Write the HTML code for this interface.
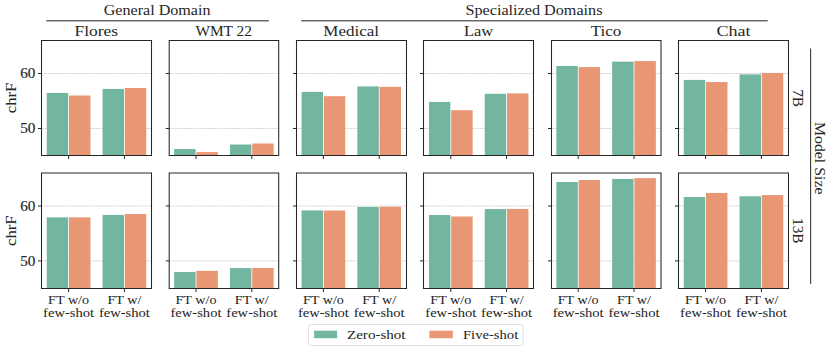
<!DOCTYPE html>
<html><head><meta charset="utf-8"><style>
html,body{margin:0;padding:0;background:#fff;width:830px;height:351px;overflow:hidden}
svg{display:block}
text{font-family:"Liberation Serif",serif;fill:#262626;stroke:#262626;stroke-width:0.04px}
</style></head><body>
<svg width="830" height="351" viewBox="0 0 830 351">
<line x1="41.5" y1="73.5" x2="151.5" y2="73.5" stroke="#d2d2d2" stroke-width="1" stroke-dasharray="2,1"/>
<line x1="41.5" y1="128.5" x2="151.5" y2="128.5" stroke="#d2d2d2" stroke-width="1" stroke-dasharray="2,1"/>
<rect x="46.75" y="92.9" width="21.45" height="62.60" fill="#72b6a1"/>
<rect x="69.00" y="95.5" width="21.45" height="60.00" fill="#e99675"/>
<rect x="102.55" y="88.9" width="21.45" height="66.60" fill="#72b6a1"/>
<rect x="124.80" y="88.0" width="21.45" height="67.50" fill="#e99675"/>
<path d="M41.5 40.5H151.5V155.5H41.5Z" fill="none" stroke="#262626" stroke-width="1.05"/>
<line x1="68.60" y1="155.5" x2="68.60" y2="159.0" stroke="#262626" stroke-width="1"/>
<line x1="124.40" y1="155.5" x2="124.40" y2="159.0" stroke="#262626" stroke-width="1"/>
<line x1="38.0" y1="73.5" x2="41.5" y2="73.5" stroke="#262626" stroke-width="1"/>
<line x1="38.0" y1="128.5" x2="41.5" y2="128.5" stroke="#262626" stroke-width="1"/>
<text x="96.25" y="35.9" font-size="14" text-anchor="middle" textLength="43.5" lengthAdjust="spacingAndGlyphs" style="stroke-width:0">Flores</text>
<line x1="169.2" y1="73.5" x2="278.7" y2="73.5" stroke="#d2d2d2" stroke-width="1" stroke-dasharray="2,1"/>
<line x1="169.2" y1="128.5" x2="278.7" y2="128.5" stroke="#d2d2d2" stroke-width="1" stroke-dasharray="2,1"/>
<rect x="174.15" y="149" width="21.45" height="6.50" fill="#72b6a1"/>
<rect x="196.40" y="152.1" width="21.45" height="3.40" fill="#e99675"/>
<rect x="229.95" y="144.5" width="21.45" height="11.00" fill="#72b6a1"/>
<rect x="252.20" y="143.5" width="21.45" height="12.00" fill="#e99675"/>
<path d="M169.2 40.5H278.7V155.5H169.2Z" fill="none" stroke="#262626" stroke-width="1.05"/>
<line x1="196.00" y1="155.5" x2="196.00" y2="159.0" stroke="#262626" stroke-width="1"/>
<line x1="251.80" y1="155.5" x2="251.80" y2="159.0" stroke="#262626" stroke-width="1"/>
<line x1="165.7" y1="73.5" x2="169.2" y2="73.5" stroke="#262626" stroke-width="1"/>
<line x1="165.7" y1="128.5" x2="169.2" y2="128.5" stroke="#262626" stroke-width="1"/>
<text x="223.70" y="35.9" font-size="14" text-anchor="middle" textLength="56.6" lengthAdjust="spacingAndGlyphs" style="stroke-width:0">WMT 22</text>
<line x1="296.5" y1="73.5" x2="406.5" y2="73.5" stroke="#d2d2d2" stroke-width="1" stroke-dasharray="2,1"/>
<line x1="296.5" y1="128.5" x2="406.5" y2="128.5" stroke="#d2d2d2" stroke-width="1" stroke-dasharray="2,1"/>
<rect x="301.55" y="91.85" width="21.45" height="63.65" fill="#72b6a1"/>
<rect x="323.80" y="96.2" width="21.45" height="59.30" fill="#e99675"/>
<rect x="357.35" y="86.4" width="21.45" height="69.10" fill="#72b6a1"/>
<rect x="379.60" y="86.8" width="21.45" height="68.70" fill="#e99675"/>
<path d="M296.5 40.5H406.5V155.5H296.5Z" fill="none" stroke="#262626" stroke-width="1.05"/>
<line x1="323.40" y1="155.5" x2="323.40" y2="159.0" stroke="#262626" stroke-width="1"/>
<line x1="379.20" y1="155.5" x2="379.20" y2="159.0" stroke="#262626" stroke-width="1"/>
<line x1="293.0" y1="73.5" x2="296.5" y2="73.5" stroke="#262626" stroke-width="1"/>
<line x1="293.0" y1="128.5" x2="296.5" y2="128.5" stroke="#262626" stroke-width="1"/>
<text x="351.15" y="35.9" font-size="14" text-anchor="middle" textLength="55.8" lengthAdjust="spacingAndGlyphs" style="stroke-width:0">Medical</text>
<line x1="423.5" y1="73.5" x2="533.5" y2="73.5" stroke="#d2d2d2" stroke-width="1" stroke-dasharray="2,1"/>
<line x1="423.5" y1="128.5" x2="533.5" y2="128.5" stroke="#d2d2d2" stroke-width="1" stroke-dasharray="2,1"/>
<rect x="428.95" y="101.9" width="21.45" height="53.60" fill="#72b6a1"/>
<rect x="451.20" y="110.2" width="21.45" height="45.30" fill="#e99675"/>
<rect x="484.75" y="93.8" width="21.45" height="61.70" fill="#72b6a1"/>
<rect x="507.00" y="93.4" width="21.45" height="62.10" fill="#e99675"/>
<path d="M423.5 40.5H533.5V155.5H423.5Z" fill="none" stroke="#262626" stroke-width="1.05"/>
<line x1="450.80" y1="155.5" x2="450.80" y2="159.0" stroke="#262626" stroke-width="1"/>
<line x1="506.60" y1="155.5" x2="506.60" y2="159.0" stroke="#262626" stroke-width="1"/>
<line x1="420.0" y1="73.5" x2="423.5" y2="73.5" stroke="#262626" stroke-width="1"/>
<line x1="420.0" y1="128.5" x2="423.5" y2="128.5" stroke="#262626" stroke-width="1"/>
<text x="478.60" y="35.9" font-size="14" text-anchor="middle" textLength="29.2" lengthAdjust="spacingAndGlyphs" style="stroke-width:0">Law</text>
<line x1="551.5" y1="73.5" x2="661" y2="73.5" stroke="#d2d2d2" stroke-width="1" stroke-dasharray="2,1"/>
<line x1="551.5" y1="128.5" x2="661" y2="128.5" stroke="#d2d2d2" stroke-width="1" stroke-dasharray="2,1"/>
<rect x="556.35" y="66" width="21.45" height="89.50" fill="#72b6a1"/>
<rect x="578.60" y="67.1" width="21.45" height="88.40" fill="#e99675"/>
<rect x="612.15" y="61.65" width="21.45" height="93.85" fill="#72b6a1"/>
<rect x="634.40" y="61.07" width="21.45" height="94.43" fill="#e99675"/>
<path d="M551.5 40.5H661V155.5H551.5Z" fill="none" stroke="#262626" stroke-width="1.05"/>
<line x1="578.20" y1="155.5" x2="578.20" y2="159.0" stroke="#262626" stroke-width="1"/>
<line x1="634.00" y1="155.5" x2="634.00" y2="159.0" stroke="#262626" stroke-width="1"/>
<line x1="548.0" y1="73.5" x2="551.5" y2="73.5" stroke="#262626" stroke-width="1"/>
<line x1="548.0" y1="128.5" x2="551.5" y2="128.5" stroke="#262626" stroke-width="1"/>
<text x="606.05" y="35.9" font-size="14" text-anchor="middle" textLength="30.4" lengthAdjust="spacingAndGlyphs" style="stroke-width:0">Tico</text>
<line x1="678.5" y1="73.5" x2="788.5" y2="73.5" stroke="#d2d2d2" stroke-width="1" stroke-dasharray="2,1"/>
<line x1="678.5" y1="128.5" x2="788.5" y2="128.5" stroke="#d2d2d2" stroke-width="1" stroke-dasharray="2,1"/>
<rect x="683.75" y="79.9" width="21.45" height="75.60" fill="#72b6a1"/>
<rect x="706.00" y="82.06" width="21.45" height="73.44" fill="#e99675"/>
<rect x="739.55" y="74.4" width="21.45" height="81.10" fill="#72b6a1"/>
<rect x="761.80" y="72.95" width="21.45" height="82.55" fill="#e99675"/>
<path d="M678.5 40.5H788.5V155.5H678.5Z" fill="none" stroke="#262626" stroke-width="1.05"/>
<line x1="705.60" y1="155.5" x2="705.60" y2="159.0" stroke="#262626" stroke-width="1"/>
<line x1="761.40" y1="155.5" x2="761.40" y2="159.0" stroke="#262626" stroke-width="1"/>
<line x1="675.0" y1="73.5" x2="678.5" y2="73.5" stroke="#262626" stroke-width="1"/>
<line x1="675.0" y1="128.5" x2="678.5" y2="128.5" stroke="#262626" stroke-width="1"/>
<text x="733.50" y="35.9" font-size="14" text-anchor="middle" textLength="34.2" lengthAdjust="spacingAndGlyphs" style="stroke-width:0">Chat</text>
<text x="35.4" y="78.2" font-size="14" text-anchor="end" textLength="15.2" lengthAdjust="spacingAndGlyphs" style="stroke-width:0.15px">60</text>
<text x="35.4" y="133.2" font-size="14" text-anchor="end" textLength="15.2" lengthAdjust="spacingAndGlyphs" style="stroke-width:0.15px">50</text>
<text x="0" y="0" font-size="14" text-anchor="middle" textLength="30.5" lengthAdjust="spacingAndGlyphs" transform="translate(15.6,98.0) rotate(-90)">chrF</text>
<text x="0" y="0" font-size="14.8" text-anchor="middle" textLength="17.7" lengthAdjust="spacingAndGlyphs" transform="translate(792.9,98.0) rotate(90)">7B</text>
<line x1="41.5" y1="206" x2="151.5" y2="206" stroke="#d2d2d2" stroke-width="1" stroke-dasharray="2,1"/>
<line x1="41.5" y1="260.9" x2="151.5" y2="260.9" stroke="#d2d2d2" stroke-width="1" stroke-dasharray="2,1"/>
<rect x="46.75" y="217.35" width="21.45" height="71.15" fill="#72b6a1"/>
<rect x="69.00" y="217.35" width="21.45" height="71.15" fill="#e99675"/>
<rect x="102.55" y="214.9" width="21.45" height="73.60" fill="#72b6a1"/>
<rect x="124.80" y="214.0" width="21.45" height="74.50" fill="#e99675"/>
<path d="M41.5 173H151.5V288.5H41.5Z" fill="none" stroke="#262626" stroke-width="1.05"/>
<line x1="68.60" y1="288.5" x2="68.60" y2="292.0" stroke="#262626" stroke-width="1"/>
<line x1="124.40" y1="288.5" x2="124.40" y2="292.0" stroke="#262626" stroke-width="1"/>
<line x1="38.0" y1="206" x2="41.5" y2="206" stroke="#262626" stroke-width="1"/>
<line x1="38.0" y1="260.9" x2="41.5" y2="260.9" stroke="#262626" stroke-width="1"/>
<text x="68.60" y="303.9" font-size="13.5" text-anchor="middle" textLength="41" lengthAdjust="spacingAndGlyphs" >FT w/o</text>
<text x="68.60" y="317.1" font-size="13.5" text-anchor="middle" textLength="51" lengthAdjust="spacingAndGlyphs" >few-shot</text>
<text x="124.40" y="303.9" font-size="13.5" text-anchor="middle" textLength="34" lengthAdjust="spacingAndGlyphs" >FT w/</text>
<text x="124.40" y="317.1" font-size="13.5" text-anchor="middle" textLength="51" lengthAdjust="spacingAndGlyphs" >few-shot</text>
<line x1="169.2" y1="206" x2="278.7" y2="206" stroke="#d2d2d2" stroke-width="1" stroke-dasharray="2,1"/>
<line x1="169.2" y1="260.9" x2="278.7" y2="260.9" stroke="#d2d2d2" stroke-width="1" stroke-dasharray="2,1"/>
<rect x="174.15" y="272" width="21.45" height="16.50" fill="#72b6a1"/>
<rect x="196.40" y="270.84" width="21.45" height="17.66" fill="#e99675"/>
<rect x="229.95" y="268.1" width="21.45" height="20.40" fill="#72b6a1"/>
<rect x="252.20" y="267.95" width="21.45" height="20.55" fill="#e99675"/>
<path d="M169.2 173H278.7V288.5H169.2Z" fill="none" stroke="#262626" stroke-width="1.05"/>
<line x1="196.00" y1="288.5" x2="196.00" y2="292.0" stroke="#262626" stroke-width="1"/>
<line x1="251.80" y1="288.5" x2="251.80" y2="292.0" stroke="#262626" stroke-width="1"/>
<line x1="165.7" y1="206" x2="169.2" y2="206" stroke="#262626" stroke-width="1"/>
<line x1="165.7" y1="260.9" x2="169.2" y2="260.9" stroke="#262626" stroke-width="1"/>
<text x="196.00" y="303.9" font-size="13.5" text-anchor="middle" textLength="41" lengthAdjust="spacingAndGlyphs" >FT w/o</text>
<text x="196.00" y="317.1" font-size="13.5" text-anchor="middle" textLength="51" lengthAdjust="spacingAndGlyphs" >few-shot</text>
<text x="251.80" y="303.9" font-size="13.5" text-anchor="middle" textLength="34" lengthAdjust="spacingAndGlyphs" >FT w/</text>
<text x="251.80" y="317.1" font-size="13.5" text-anchor="middle" textLength="51" lengthAdjust="spacingAndGlyphs" >few-shot</text>
<line x1="296.5" y1="206" x2="406.5" y2="206" stroke="#d2d2d2" stroke-width="1" stroke-dasharray="2,1"/>
<line x1="296.5" y1="260.9" x2="406.5" y2="260.9" stroke="#d2d2d2" stroke-width="1" stroke-dasharray="2,1"/>
<rect x="301.55" y="210.4" width="21.45" height="78.10" fill="#72b6a1"/>
<rect x="323.80" y="210.55" width="21.45" height="77.95" fill="#e99675"/>
<rect x="357.35" y="206.94" width="21.45" height="81.56" fill="#72b6a1"/>
<rect x="379.60" y="206.65" width="21.45" height="81.85" fill="#e99675"/>
<path d="M296.5 173H406.5V288.5H296.5Z" fill="none" stroke="#262626" stroke-width="1.05"/>
<line x1="323.40" y1="288.5" x2="323.40" y2="292.0" stroke="#262626" stroke-width="1"/>
<line x1="379.20" y1="288.5" x2="379.20" y2="292.0" stroke="#262626" stroke-width="1"/>
<line x1="293.0" y1="206" x2="296.5" y2="206" stroke="#262626" stroke-width="1"/>
<line x1="293.0" y1="260.9" x2="296.5" y2="260.9" stroke="#262626" stroke-width="1"/>
<text x="323.40" y="303.9" font-size="13.5" text-anchor="middle" textLength="41" lengthAdjust="spacingAndGlyphs" >FT w/o</text>
<text x="323.40" y="317.1" font-size="13.5" text-anchor="middle" textLength="51" lengthAdjust="spacingAndGlyphs" >few-shot</text>
<text x="379.20" y="303.9" font-size="13.5" text-anchor="middle" textLength="34" lengthAdjust="spacingAndGlyphs" >FT w/</text>
<text x="379.20" y="317.1" font-size="13.5" text-anchor="middle" textLength="51" lengthAdjust="spacingAndGlyphs" >few-shot</text>
<line x1="423.5" y1="206" x2="533.5" y2="206" stroke="#d2d2d2" stroke-width="1" stroke-dasharray="2,1"/>
<line x1="423.5" y1="260.9" x2="533.5" y2="260.9" stroke="#d2d2d2" stroke-width="1" stroke-dasharray="2,1"/>
<rect x="428.95" y="215.04" width="21.45" height="73.46" fill="#72b6a1"/>
<rect x="451.20" y="216.5" width="21.45" height="72.00" fill="#e99675"/>
<rect x="484.75" y="209.1" width="21.45" height="79.40" fill="#72b6a1"/>
<rect x="507.00" y="208.96" width="21.45" height="79.54" fill="#e99675"/>
<path d="M423.5 173H533.5V288.5H423.5Z" fill="none" stroke="#262626" stroke-width="1.05"/>
<line x1="450.80" y1="288.5" x2="450.80" y2="292.0" stroke="#262626" stroke-width="1"/>
<line x1="506.60" y1="288.5" x2="506.60" y2="292.0" stroke="#262626" stroke-width="1"/>
<line x1="420.0" y1="206" x2="423.5" y2="206" stroke="#262626" stroke-width="1"/>
<line x1="420.0" y1="260.9" x2="423.5" y2="260.9" stroke="#262626" stroke-width="1"/>
<text x="450.80" y="303.9" font-size="13.5" text-anchor="middle" textLength="41" lengthAdjust="spacingAndGlyphs" >FT w/o</text>
<text x="450.80" y="317.1" font-size="13.5" text-anchor="middle" textLength="51" lengthAdjust="spacingAndGlyphs" >few-shot</text>
<text x="506.60" y="303.9" font-size="13.5" text-anchor="middle" textLength="34" lengthAdjust="spacingAndGlyphs" >FT w/</text>
<text x="506.60" y="317.1" font-size="13.5" text-anchor="middle" textLength="51" lengthAdjust="spacingAndGlyphs" >few-shot</text>
<line x1="551.5" y1="206" x2="661" y2="206" stroke="#d2d2d2" stroke-width="1" stroke-dasharray="2,1"/>
<line x1="551.5" y1="260.9" x2="661" y2="260.9" stroke="#d2d2d2" stroke-width="1" stroke-dasharray="2,1"/>
<rect x="556.35" y="182" width="21.45" height="106.50" fill="#72b6a1"/>
<rect x="578.60" y="180" width="21.45" height="108.50" fill="#e99675"/>
<rect x="612.15" y="178.96" width="21.45" height="109.54" fill="#72b6a1"/>
<rect x="634.40" y="178.1" width="21.45" height="110.40" fill="#e99675"/>
<path d="M551.5 173H661V288.5H551.5Z" fill="none" stroke="#262626" stroke-width="1.05"/>
<line x1="578.20" y1="288.5" x2="578.20" y2="292.0" stroke="#262626" stroke-width="1"/>
<line x1="634.00" y1="288.5" x2="634.00" y2="292.0" stroke="#262626" stroke-width="1"/>
<line x1="548.0" y1="206" x2="551.5" y2="206" stroke="#262626" stroke-width="1"/>
<line x1="548.0" y1="260.9" x2="551.5" y2="260.9" stroke="#262626" stroke-width="1"/>
<text x="578.20" y="303.9" font-size="13.5" text-anchor="middle" textLength="41" lengthAdjust="spacingAndGlyphs" >FT w/o</text>
<text x="578.20" y="317.1" font-size="13.5" text-anchor="middle" textLength="51" lengthAdjust="spacingAndGlyphs" >few-shot</text>
<text x="634.00" y="303.9" font-size="13.5" text-anchor="middle" textLength="34" lengthAdjust="spacingAndGlyphs" >FT w/</text>
<text x="634.00" y="317.1" font-size="13.5" text-anchor="middle" textLength="51" lengthAdjust="spacingAndGlyphs" >few-shot</text>
<line x1="678.5" y1="206" x2="788.5" y2="206" stroke="#d2d2d2" stroke-width="1" stroke-dasharray="2,1"/>
<line x1="678.5" y1="260.9" x2="788.5" y2="260.9" stroke="#d2d2d2" stroke-width="1" stroke-dasharray="2,1"/>
<rect x="683.75" y="197" width="21.45" height="91.50" fill="#72b6a1"/>
<rect x="706.00" y="192.95" width="21.45" height="95.55" fill="#e99675"/>
<rect x="739.55" y="196.3" width="21.45" height="92.20" fill="#72b6a1"/>
<rect x="761.80" y="195.1" width="21.45" height="93.40" fill="#e99675"/>
<path d="M678.5 173H788.5V288.5H678.5Z" fill="none" stroke="#262626" stroke-width="1.05"/>
<line x1="705.60" y1="288.5" x2="705.60" y2="292.0" stroke="#262626" stroke-width="1"/>
<line x1="761.40" y1="288.5" x2="761.40" y2="292.0" stroke="#262626" stroke-width="1"/>
<line x1="675.0" y1="206" x2="678.5" y2="206" stroke="#262626" stroke-width="1"/>
<line x1="675.0" y1="260.9" x2="678.5" y2="260.9" stroke="#262626" stroke-width="1"/>
<text x="705.60" y="303.9" font-size="13.5" text-anchor="middle" textLength="41" lengthAdjust="spacingAndGlyphs" >FT w/o</text>
<text x="705.60" y="317.1" font-size="13.5" text-anchor="middle" textLength="51" lengthAdjust="spacingAndGlyphs" >few-shot</text>
<text x="761.40" y="303.9" font-size="13.5" text-anchor="middle" textLength="34" lengthAdjust="spacingAndGlyphs" >FT w/</text>
<text x="761.40" y="317.1" font-size="13.5" text-anchor="middle" textLength="51" lengthAdjust="spacingAndGlyphs" >few-shot</text>
<text x="35.4" y="210.7" font-size="14" text-anchor="end" textLength="15.2" lengthAdjust="spacingAndGlyphs" style="stroke-width:0.15px">60</text>
<text x="35.4" y="265.59999999999997" font-size="14" text-anchor="end" textLength="15.2" lengthAdjust="spacingAndGlyphs" style="stroke-width:0.15px">50</text>
<text x="0" y="0" font-size="14" text-anchor="middle" textLength="30.5" lengthAdjust="spacingAndGlyphs" transform="translate(15.6,230.75) rotate(-90)">chrF</text>
<text x="0" y="0" font-size="14.8" text-anchor="middle" textLength="25.4" lengthAdjust="spacingAndGlyphs" transform="translate(792.9,230.75) rotate(90)">13B</text>
<text x="157.1" y="15.1" font-size="14" text-anchor="middle" textLength="106.8" lengthAdjust="spacingAndGlyphs" style="stroke-width:0">General Domain</text>
<line x1="46.3" y1="20.8" x2="268.9" y2="20.8" stroke="#6a6a6a" stroke-width="1.45"/>
<text x="534" y="15.1" font-size="14" text-anchor="middle" textLength="137" lengthAdjust="spacingAndGlyphs" style="stroke-width:0">Specialized Domains</text>
<line x1="301.2" y1="20.8" x2="767.7" y2="20.8" stroke="#6a6a6a" stroke-width="1.45"/>
<line x1="810.6" y1="48.4" x2="810.6" y2="284" stroke="#3a3a3a" stroke-width="1.1"/>
<text x="0" y="0" font-size="14" text-anchor="middle" textLength="72.4" lengthAdjust="spacingAndGlyphs" transform="translate(815,158.2) rotate(90)">Model Size</text>
<rect x="308.5" y="324.5" width="214.5" height="21" rx="2" fill="#fff" stroke="#d9d9d9" stroke-width="0.8"/>
<rect x="314.1" y="330.7" width="23" height="7.5" fill="#72b6a1"/>
<rect x="429.4" y="330.7" width="23.4" height="7.5" fill="#e99675"/>
<text x="347" y="338.7" font-size="13.5" text-anchor="start" textLength="58.5" lengthAdjust="spacingAndGlyphs" >Zero-shot</text>
<text x="463" y="338.7" font-size="13.5" text-anchor="start" textLength="55.2" lengthAdjust="spacingAndGlyphs" >Five-shot</text>
</svg></body></html>
